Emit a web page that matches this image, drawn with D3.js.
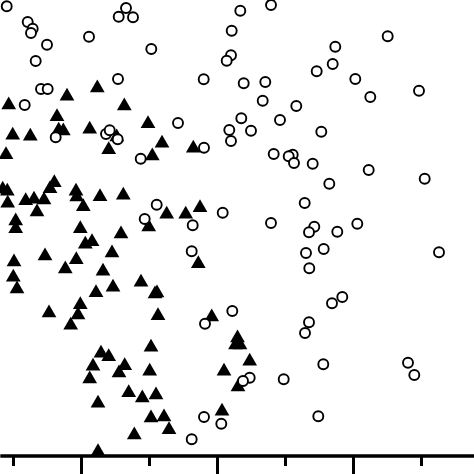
<!DOCTYPE html>
<html>
<head>
<meta charset="utf-8">
<script src="https://cdn.jsdelivr.net/npm/d3@7"></script>
<style>
  html, body { margin: 0; padding: 0; background: #fff; }
  svg { display: block; }
</style>
</head>
<body>
<svg id="chart"></svg>
<script>
// values, in axis units (no labels survive in the crop)
const triangleX = [84.3, 54, -4.3, 111.3, 44, 45.7, 50.3, -0.3, 17.3, 76.7, 135, 103.7, 95.7, 149, 139.3, 180.3, -7, 41.3, 37, -10.3, -5.7, 63, 63.7, 87, 110.3, -5.3, 12.7, 21, 31, 70.3, 24, 153.7, 172.7, 187, 2.7, 2.7, 67.3, 135.7, 108, 79, 72.3, 99, 32, 63.3, 1, 52.3, 90, 0.3, 4, 128, 100, 83, 142, 144, 67.3, 36, 65, 57.7, 145, 185.3, 198.7, 138, 224.5, 222.5, 227, 88, 95.7, 111.7, 80, 106, 136.7, 76.7, 211, 236.7, 225, 115.7, 129.3, 143, 85, 209, 138, 151, 156, 121.3, 85];
const triangleY = [368, 359.7, 351, 350, 339.3, 325.7, 325, 320.7, 319.7, 326.7, 332.3, 319, 306.3, 312.7, 300, 307.7, 301.3, 273.3, 267.3, 266.7, 264.7, 264.7, 259, 259.3, 260.7, 252.7, 255.3, 256.7, 256, 249.3, 244, 241.7, 241.7, 248.3, 235, 227.3, 227.3, 229, 222, 214.3, 211.7, 203, 200, 196.3, 194, 187, 184.7, 178.7, 167, 173.7, 168.7, 163.3, 162, 163, 151.3, 143, 141, 130.7, 140.3, 192.3, 139, 108.7, 118, 111, 111, 102.7, 99.3, 90.3, 89.7, 83, 84.7, 77, 84.7, 94.7, 69, 63.3, 58, 61, 52.7, 44.7, 38, 39, 26.3, 21, 4.3];

const circleX = [-6.3, 14.7, 19.7, 18, 34, 22.7, 28, 34.7, 11.7, 113, 105.7, 120, 76, 138.3, 105, 190.7, 218.7, 227.3, 218, 213.7, 165, 93, 96.7, 104.7, 42.7, 127.7, 191, 216.3, 218, 143.7, 131.7, 179.7, 209.7, 258, 374.7, 322.3, 319.7, 303.7, 342.3, 230.7, 252.3, 357.3, 406, 249.7, 283.3, 228.3, 267, 238, 308.3, 260.7, 279.7, 275.7, 281, 299.7, 355.7, 411.7, 316.3, 291.7, 258, 301.3, 296, 324.3, 344.3, 293, 310.7, 426, 296.3, 329.3, 319, 296, 292, 310.3, 395, 401.3, 270.7, 236.7, 230, 305.3, 219.3, 178.7, 192, 191, 208.3, 178.7];
const circleY = [449.7, 434, 427.3, 423, 411.3, 395, 367, 367, 351, 448, 439.3, 438.7, 419.3, 407, 377, 376.7, 425.3, 445.3, 400.7, 395.3, 333, 322, 325.7, 316.7, 318.7, 297.3, 308.3, 326, 315, 251.3, 237, 230.7, 243.3, 451, 419.7, 409.3, 392, 384.7, 377, 372.7, 374, 359, 365.3, 355.3, 350, 337.7, 336, 325.3, 324.3, 302, 301.3, 299.7, 293, 292.3, 286, 277.3, 272.3, 253, 233, 229.3, 223.7, 224.3, 232.3, 203, 207, 203.7, 187.7, 159, 152.7, 133.7, 123, 91.7, 93.3, 81, 76.7, 78.3, 75, 39.7, 145, 204.7, 132.3, 39, 32.3, 16.7];

const majorTicks = [68, 204, 340];
const minorTicks = [0, 136, 272, 408];

const width = 474;
const height = 474;
const axisY = 456;

const svg = d3.select("#chart")
    .attr("width", width)
    .attr("height", height);

const x = d3.scaleLinear().domain([-13, 461]).range([0, width]);
const y = d3.scaleLinear().domain([0, axisY]).range([axisY, 0]);

const triangle = d3.symbol().type(d3.symbolTriangle).size(94);

svg.append("g")
    .selectAll("path")
    .data(triangleX.map((d, i) => [d, triangleY[i]]))
    .enter().append("path")
    .attr("d", triangle)
    .attr("transform", d => "translate(" + x(d[0]) + "," + y(d[1]) + ")")
    .attr("fill", "#000");

svg.append("g")
    .selectAll("circle")
    .data(circleX.map((d, i) => [d, circleY[i]]))
    .enter().append("circle")
    .attr("cx", d => x(d[0]))
    .attr("cy", d => y(d[1]))
    .attr("r", 5)
    .attr("fill", "#fff")
    .attr("stroke", "#000")
    .attr("stroke-width", 1.9);

// long ticks and short ticks alternate along the bottom axis
const axisMajor = svg.append("g")
    .attr("transform", "translate(0," + (axisY - 0.5) + ")")
    .call(d3.axisBottom(x).tickValues(majorTicks).tickSize(20).tickSizeOuter(0).tickFormat(""));

const axisMinor = svg.append("g")
    .attr("transform", "translate(0," + (axisY - 0.5) + ")")
    .call(d3.axisBottom(x).tickValues(minorTicks).tickSize(10.5).tickSizeOuter(0).tickFormat(""));

svg.selectAll(".domain").attr("stroke", "#000").attr("stroke-width", 2.8);
svg.selectAll(".tick line").attr("stroke", "#000").attr("stroke-width", 3);
</script>
</body>
</html>
